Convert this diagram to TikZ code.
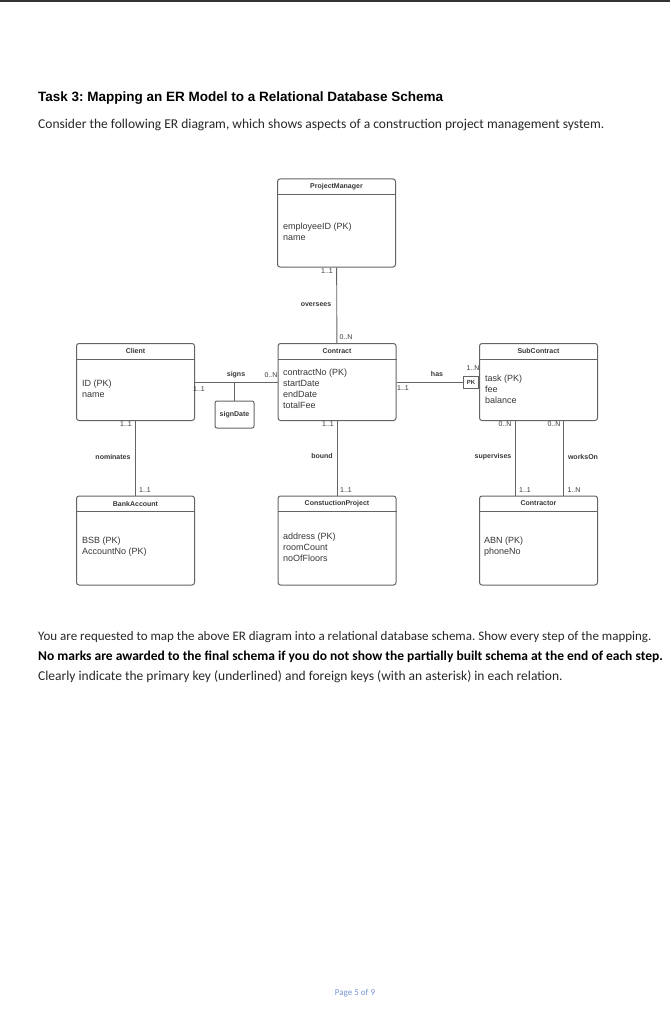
\documentclass[tikz,border=0pt]{standalone}
\usepackage{fontspec}
\setmainfont{Carlito}
\newfontfamily\arialfont{Liberation Sans}
\usetikzlibrary{positioning}
\definecolor{erline}{RGB}{100,100,100}
\definecolor{ertext}{RGB}{55,55,55}
\definecolor{bodytext}{RGB}{40,40,40}
\definecolor{footblue}{RGB}{120,150,210}
\frenchspacing

\begin{document}
\begin{tikzpicture}[x=1pt, y=-1pt,
    entity/.style={rectangle, draw=erline, line width=1pt, rounded corners=2.5pt,
        minimum width=118pt, inner sep=0pt},
    ename/.style={font=\arialfont\bfseries\fontsize{7}{8}\selectfont, text=ertext, inner sep=0pt},
    attr/.style={font=\arialfont\fontsize{9}{11}\selectfont, text=ertext, align=left,
        anchor=west, inner sep=0pt},
    rel/.style={font=\arialfont\bfseries\fontsize{7}{8}\selectfont, text=ertext, inner sep=0pt},
    card/.style={font=\arialfont\fontsize{7}{8}\selectfont, text=ertext, inner sep=0pt},
    pkbox/.style={rectangle, draw=erline, line width=0.9pt, minimum width=15pt,
        minimum height=12pt, inner sep=0pt, font=\arialfont\bfseries\fontsize{6}{7}\selectfont, text=ertext},
    link/.style={draw=erline, line width=0.9pt},
    para/.style={anchor=west, inner sep=0pt, text=bodytext, font=\fontsize{13.5}{16}\selectfont}
]
    % Page
    \fill[white] (0,0) rectangle (670,1024);
    \useasboundingbox (0,0) rectangle (670,1024);
    \fill[black!80] (0,0) rectangle (670,2.5);

    % Task text
    \node[anchor=west, inner sep=0pt, font=\arialfont\bfseries\fontsize{13.5}{16}\selectfont]
        (heading) at (38,98) {Task 3: Mapping an ER Model to a Relational Database Schema};
    \node[para] (intro) at (38,125)
        {Consider the following ER diagram, which shows aspects of a construction project management system.};

    % Entities, top row
    \node[entity, minimum height=88pt] (pm) at (336.5,223) {};
    \node[ename] (pmtitle) at ([yshift=-8pt]pm.north) {ProjectManager};
    \draw[link] ([yshift=-16pt]pm.north west) -- ([yshift=-16pt]pm.north east);
    \node[attr] (pmattr) at (283,231.5) {employeeID (PK)\\name};

    % Entities, middle row
    \node[entity, minimum height=77pt] (client) at (135.5,382) {};
    \node[ename] (clienttitle) at ([yshift=-8pt]client.north) {Client};
    \draw[link] ([yshift=-16pt]client.north west) -- ([yshift=-16pt]client.north east);
    \node[attr] (clientattr) at (82,388.5) {ID (PK)\\name};

    \node[entity, minimum height=77pt] (contract) at (337,382) {};
    \node[ename] (contracttitle) at ([yshift=-8pt]contract.north) {Contract};
    \draw[link] ([yshift=-16pt]contract.north west) -- ([yshift=-16pt]contract.north east);
    \node[attr] (contractattr) at (283,389) {contractNo (PK)\\startDate\\endDate\\totalFee};

    \node[entity, minimum height=77pt] (sub) at (538.5,382) {};
    \node[ename] (subtitle) at ([yshift=-8pt]sub.north) {SubContract};
    \draw[link] ([yshift=-16pt]sub.north west) -- ([yshift=-16pt]sub.north east);
    \node[attr] (subattr) at (485,389) {task (PK)\\fee\\balance};
    \node[pkbox, anchor=east] (pk) at (sub.west) {PK};

    % Entities, bottom row
    \node[entity, minimum height=89pt] (bank) at (135.5,540.5) {};
    \node[ename] (banktitle) at ([yshift=-8pt]bank.north) {BankAccount};
    \draw[link] ([yshift=-16pt]bank.north west) -- ([yshift=-16pt]bank.north east);
    \node[attr] (bankattr) at (82,546.5) {BSB (PK)\\AccountNo (PK)};

    \node[entity, minimum height=89pt] (cp) at (337,540.5) {};
    \node[ename] (cptitle) at ([yshift=-8pt]cp.north) {ConstuctionProject};
    \draw[link] ([yshift=-16pt]cp.north west) -- ([yshift=-16pt]cp.north east);
    \node[attr] (cpattr) at (283,547) {address (PK)\\roomCount\\noOfFloors};

    \node[entity, minimum height=89pt] (contractor) at (538.5,540.5) {};
    \node[ename] (contractortitle) at ([yshift=-8pt]contractor.north) {Contractor};
    \draw[link] ([yshift=-16pt]contractor.north west) -- ([yshift=-16pt]contractor.north east);
    \node[attr] (contractorattr) at (484,546.5) {ABN (PK)\\phoneNo};

    % Weak attribute box
    \node[rectangle, draw=erline, line width=1pt, rounded corners=2pt, minimum width=39pt,
        minimum height=27pt, inner sep=0pt, font=\arialfont\bfseries\fontsize{7}{8}\selectfont,
        text=ertext] (signdate) at (234.5,414.5) {signDate};

    % Relationships
    \draw[link] (pm) -- (contract);
    \draw[link] (client) -- (contract);
    \draw[link] (signdate) -- (signdate |- client.east);
    \draw[link] (contract) -- (pk);
    \draw[link] (client) -- (bank);
    \draw[link] (contract) -- (cp);
    \draw[link] ([xshift=-23pt]sub.south) -- ([xshift=-23pt]sub.south |- contractor.north);
    \draw[link] ([xshift=25pt]sub.south) -- ([xshift=25pt]sub.south |- contractor.north);

    % Relationship names
    \node[rel] (oversees) at (316,305) {oversees};
    \node[rel] (signs) at (236,375) {signs};
    \node[rel] (has) at (437,374) {has};
    \node[rel] (nominates) at (113,457) {nominates};
    \node[rel] (bound) at (322,456) {bound};
    \node[rel] (supervises) at (493,457) {supervises};
    \node[rel] (workson) at (583,457) {worksOn};

    % Cardinalities
    \node[card] (c1) at (327,271) {1..1};
    \node[card] (c2) at (346,337) {0..N};
    \node[card] (c3) at (199,389) {1..1};
    \node[card] (c4) at (271,375) {0..N};
    \node[card] (c5) at (403,388) {1..1};
    \node[card] (c6) at (473,368) {1..N};
    \node[card] (c7) at (126,424) {1..1};
    \node[card] (c8) at (145,490) {1..1};
    \node[card] (c9) at (328,424) {1..1};
    \node[card] (c10) at (346,490) {1..1};
    \node[card] (c11) at (505,424) {0..N};
    \node[card] (c12) at (554,424) {0..N};
    \node[card] (c13) at (525,490) {1..1};
    \node[card] (c14) at (574,490) {1..N};

    % Instructions
    \node[para, font=\fontsize{13}{16}\selectfont] (req1) at (38,637)
        {You are requested to map the above ER diagram into a relational database schema. Show every step of the mapping.};
    \node[para, font=\bfseries\fontsize{13.5}{16}\selectfont, text=black] (req2) at (38,657)
        {No marks are awarded to the final schema if you do not show the partially built schema at the end of each step.};
    \node[para] (req3) at (38,677)
        {Clearly indicate the primary key (underlined) and foreign keys (with an asterisk) in each relation.};

    % Footer
    \node[font=\fontsize{9}{10}\selectfont, text=footblue] (pagenum) at (355,993) {Page 5 of 9};
\end{tikzpicture}
\end{document}
